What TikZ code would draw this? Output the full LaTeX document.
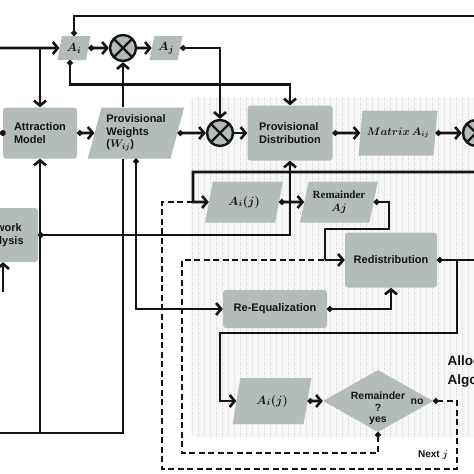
\documentclass[tikz,border=0pt]{standalone}
\usepackage{amsmath}
\usepackage{fontspec}
\setmainfont{Liberation Sans}
\usepackage{tikz}
\usetikzlibrary{arrows.meta,shapes.geometric,positioning,calc}

\definecolor{boxgrey}{RGB}{180,188,184}
\definecolor{ink}{RGB}{20,20,20}
\definecolor{panelgrey}{RGB}{247,247,247}
\definecolor{meshgrey}{RGB}{218,218,218}

\tikzset{
	lbl/.style={font=\fontsize{11}{12.5}\selectfont\bfseries\mathversion{bold}, text=ink},
	mathlbl/.style={font=\fontsize{12.5}{14}\selectfont\bfseries\mathversion{bold}},
	proc/.style={lbl, rectangle, fill=boxgrey, rounded corners=3pt, align=left, inner sep=0pt},
	iobox/.style={lbl, trapezium, trapezium left angle=72, trapezium right angle=108, trapezium stretches=true, fill=boxgrey, align=left, inner sep=0pt},
	mult/.style={circle, draw=ink, fill=boxgrey, line width=2.4pt, minimum size=26pt, inner sep=0pt,
		path picture={\draw[ink, line width=2.4pt] (path picture bounding box.north west) -- (path picture bounding box.south east)
			(path picture bounding box.north east) -- (path picture bounding box.south west);}},
	wire/.style={draw=ink, line width=2.6pt},
	flow/.style={wire, -{Straight Barb[length=5pt,width=12pt]}},
	dotflow/.style={wire, {Circle[length=5.5pt]}-{Straight Barb[length=5pt,width=12pt]}},
	dotwire/.style={wire, {Circle[length=5.5pt]}-},
	loopdash/.style={dash pattern=on 6pt off 3.5pt}
}

\begin{document}
\begin{tikzpicture}[x=1pt, y=-1pt]
	\useasboundingbox (0,0) rectangle (474,474);
	\clip (0,0) rectangle (474,474);

	\begin{scope}
		\clip[rounded corners=8pt] (190,97) rectangle (500,437);
		\fill[panelgrey] (190,97) rectangle (500,437);
		\draw[meshgrey, line width=0.5pt, dash pattern=on 1.5pt off 1pt] (190,97) grid[step=6] (500,437);
	\end{scope}

	\node[iobox, mathlbl, trapezium left angle=75, trapezium right angle=105, minimum width=33, minimum height=24] (Ai) at (74,48) {$A_i$};
	\node[mult] (mul1) at (123,48) {};
	\node[iobox, mathlbl, trapezium left angle=75, trapezium right angle=105, minimum width=33, minimum height=24] (Aj) at (166,48) {$A_j$};

	\node[proc, minimum width=74, minimum height=51] (attr) at (40,133) {Attraction\\Model};
	\node[iobox, minimum width=97, minimum height=51] (pw) at (136,133) {Provisional\\Weights\\ ($W_{ij}$)};
	\node[mult] (mul2) at (220,133) {};
	\node[proc, minimum width=85, minimum height=55] (pd) at (290,133) {Provisional\\Distribution};
	\node[iobox, minimum width=79, minimum height=45, font=\fontsize{10.5}{12}\selectfont\mathversion{bold}] (mat) at (398,133) {$Matrix\,A_{ij}$};
	\node[mult] (mul3) at (476,133) {};

	\node[proc, minimum width=74, minimum height=54] (net) at (1,235) {Network\\Analysis};
	\node[iobox, mathlbl, minimum width=78, minimum height=41] (upAij) at (244,202) {$A_i(j)$};
	\node[iobox, minimum width=78, minimum height=41, font=\fontsize{11}{13}\selectfont\bfseries\mathversion{bold}\fontspec{Liberation Serif}, align=center] (rem) at (339,202) {Remainder\\$Aj$};
	\node[proc, minimum width=92, minimum height=55] (redist) at (391,260) {Redistribution};
	\node[proc, minimum width=104, minimum height=38] (reeq) at (275,309) {Re-Equalization};
	\node[iobox, mathlbl, minimum width=79, minimum height=46] (lowAij) at (272,401) {$A_i(j)$};
	\node[diamond, fill=boxgrey, minimum width=110, minimum height=62, inner sep=0pt] (dec) at (378,401) {};
	\node[lbl, align=center, font=\fontsize{10.5}{12}\selectfont\bfseries] (decTxt) at (378,402) {Remainder\\?};
	\node[lbl, font=\fontsize{10.5}{12}\selectfont\bfseries] (decYes) at (378,421) {yes};
	\node[lbl, font=\fontsize{10.5}{12}\selectfont\bfseries] (decNo) at (417,402) {no};

	\node[lbl, font=\fontsize{10}{12}\selectfont\bfseries\mathversion{bold}] (nextj) at (433,455) {Next $j$};
	\node[lbl, anchor=west, align=left, font=\fontsize{13.5}{19}\selectfont\bfseries] (algo) at (444,372) {Allocation\\Algorithm};

	\coordinate (inL) at (0,48);
	\coordinate (topR) at (474,16);
	\coordinate (netIn) at (3,292);
	\coordinate (fbL) at (0,433);
	\coordinate (fbR) at (123,433);
	\coordinate (backIn) at (474,172);
	\coordinate (backTurn) at (193,202);
	\coordinate (remR) at (389,229);
	\coordinate (remL) at (325,229);
	\coordinate (mergeR) at (325,260);
	\coordinate (outR) at (474,260);
	\coordinate (outTurn) at (457,260);
	\coordinate (lowTurn) at (220,333);

	\draw[flow] (inL) -- (Ai.west);
	\draw[flow] (attr |- inL) -- (attr.north);
	\draw[dotwire] (Ai.north) |- (topR);
	\draw[dotflow] (Ai.east) -- (mul1.west);
	\draw[flow] (mul1.east) -- (Aj.west);
	\draw[dotflow] (Aj.east) -| (mul2.north);
	\draw[dotflow] ([xshift=-4pt]Ai.south) -- ++(0,24) -| (pd.north);
	\draw[flow] (mul1 |- pw.north) -- (mul1.south);

	\fill[ink] (attr.west) circle (3pt);
	\draw[dotflow] (attr.east) -- (pw.west);
	\draw[dotflow] (pw.east) -- (mul2.west);
	\draw[flow] (mul2.east) -- (pd.west);
	\draw[dotflow] (pd.east) -- (mat.west);
	\draw[dotflow] (mat.east) -- (mul3.west);

	\draw[dotflow] (net.east) -| (pd.south);
	\draw[flow] (netIn) -- (net.south -| netIn);
	\draw[wire] (mul1 |- pw.south) -- (fbR) -- (fbL);
	\draw[flow] (attr |- fbL) -- (attr.south);
	\draw[dotflow] (pw.south) |- (reeq.west);

	\draw[flow] (backIn) -| (backTurn) -- (upAij.west);
	\draw[dotflow] (upAij.east) -- (rem.west);
	\draw[dotwire] (rem.east) -| (remR) -- (remL) -- (mergeR);
	\draw[flow] (mergeR) -- (redist.west);
	\draw[dotflow] (reeq.east) -| (redist.south);
	\draw[dotwire] (redist.east) -- (outR);
	\draw[flow] (outTurn) |- (lowTurn) |- (lowAij.west);
	\draw[dotflow] (lowAij.east) -- (dec.west);

	\draw[dotwire, loopdash] (dec.east) -| (457,469) -| (162,202) -- (backTurn);
	\draw[dotwire, loopdash] (dec.south) |- (182,453) |- (mergeR);
\end{tikzpicture}
\end{document}
